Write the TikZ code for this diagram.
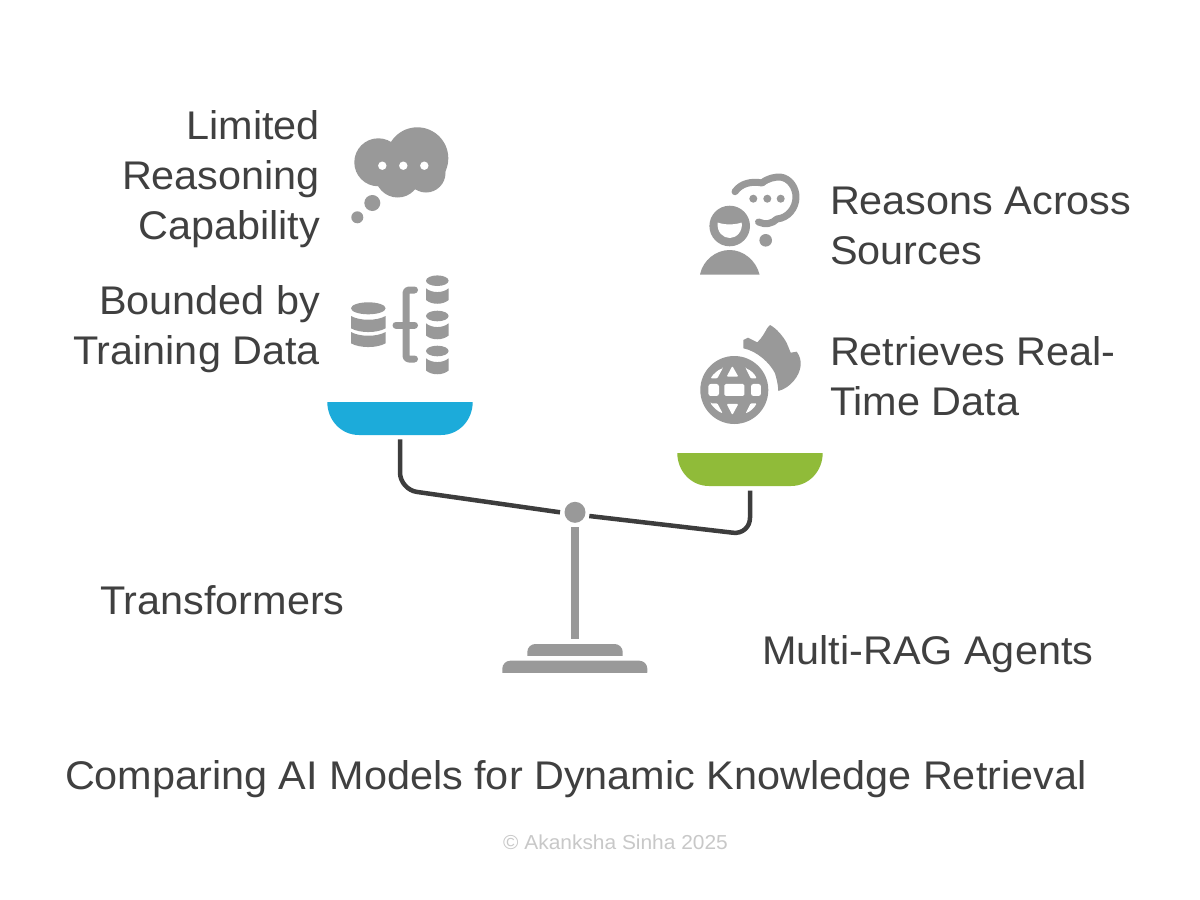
\documentclass[tikz,border=0pt]{standalone}
\usepackage{fontspec}
\setmainfont{Liberation Sans}[FakeStretch=1.035]
\definecolor{ink}{HTML}{404040}
\definecolor{icon}{HTML}{999999}
\definecolor{beamc}{HTML}{3D3D3D}
\definecolor{panblue}{HTML}{1CABDA}
\definecolor{pangreen}{HTML}{90BB39}
\definecolor{copyc}{HTML}{C8C8C8}
\tikzset{
  lbl/.style={text=ink,font=\fontsize{40}{50}\selectfont,inner sep=0pt,outer sep=0pt},
  lblr/.style={lbl,align=right,anchor=north east},
  lbll/.style={lbl,align=left,anchor=north west},
  beam/.style={draw=beamc,line width=4.5pt,rounded corners=17pt},
  ic/.style={fill=icon,draw=none},
  hole/.style={fill=white,draw=none},
  bracket/.style={draw=icon,line width=7pt,line cap=round,line join=round},
}
\newcommand{\dbband}[5]{% cx, rx, ytop, ybottom, dip
  \fill[icon] (#1-#2,#3) .. controls (#1-#2*0.5,#3+#5*1.25) and (#1+#2*0.5,#3+#5*1.25) .. (#1+#2,#3)
   -- (#1+#2,#4) .. controls (#1+#2*0.5,#4+#5*1.25) and (#1-#2*0.5,#4+#5*1.25) .. (#1-#2,#4) -- cycle;}
\begin{document}
\begin{tikzpicture}[x=1pt,y=-1pt]
\useasboundingbox (0,0) rectangle (1200,900);
\fill[white] (0,0) rectangle (1200,900);

% texts
\node[lblr] (limited) at (320,111) {Limited\\Reasoning\\Capability};
\node[lblr] (bounded) at (320,286) {Bounded by\\Training Data};
\node[lbll] (reasons) at (830,187) {Reasons Across\\Sources};
\node[lbll] (retrieves) at (830,337) {Retrieves Real-\\Time Data};
\node[lbl,anchor=base west] (transformers) at (100,614) {Transformers};
\node[lbl,anchor=base west] (multirag) at (762,664) {Multi-RAG Agents};
\node[lbl,anchor=base west] (title) at (65,789) {Comparing AI Models for Dynamic Knowledge Retrieval};
\node[anchor=base west,inner sep=0pt,text=copyc,font=\fontsize{20.2}{24}\selectfont] (copy) at (503,849) {© Akanksha Sinha 2025};

% thought cloud icon
\fill[ic] (378.3,162.3) circle (24);
\fill[ic] (417.3,158.3) circle (31);
\fill[ic] (397.7,175) circle (22.5);
\fill[ic] (426,173) circle (19.5);
\fill[hole] (382.3,165.7) circle (4.2) (403.3,165.7) circle (4.2) (424.3,165.7) circle (4.2);
\fill[ic] (372.3,203) circle (8) (357.3,217.3) circle (6);

% database icon
\fill[ic] (368.3,308.3) ellipse (17.3 and 6);
\dbband{368.3}{17.3}{316}{328.3}{4}
\dbband{368.3}{17.3}{332}{343.3}{4}
\fill[ic] (437.3,280.7) ellipse (11.3 and 5.3);
\dbband{437.3}{11.3}{288.3}{300}{4}
\fill[ic] (437.3,316) ellipse (11.3 and 5.3);
\dbband{437.3}{11.3}{323.3}{335.5}{4}
\fill[ic] (437.3,351) ellipse (11.3 and 5.3);
\dbband{437.3}{11.3}{358.3}{370.5}{4}
\draw[bracket,rounded corners=3pt] (414.5,290) -- (406,290) -- (406,359) -- (414.5,359);
\draw[bracket] (396,325) -- (414.5,325);

% person icon
\fill[ic] (729.7,226) circle (20.3);
\fill[hole] (717.7,222.5) .. controls (724,225) and (735,225) .. (741.7,222.5)
  .. controls (743,232) and (736,238) .. (729.7,238) .. controls (723,238) and (716.5,232) .. (717.7,222.5) -- cycle;
\fill[ic] (700,274.5) .. controls (703,260) and (716,250) .. (729.7,250)
  .. controls (743,250) and (756,260) .. (759.5,274.5) -- cycle;
\draw[bracket,line width=7pt] (735,191.7) .. controls (741,183) and (752,181) .. (762,183)
  .. controls (768,178) and (775,177) .. (780,177) .. controls (790,178) and (796,188) .. (796,197)
  .. controls (796,208) and (788,218) .. (777,219) .. controls (772,224) and (765,225) .. (758.5,222);
\fill[ic] (753.3,198.7) circle (4) (767.3,198.7) circle (4) (780.7,198.7) circle (4);
\fill[ic] (765.7,240.3) circle (6.3);

% globe + flame icon
\fill[ic] (743.3,340) -- (748,337.7) -- (757.3,342.3) .. controls (762,338) and (765,332) .. (767.3,328)
  -- (770,325) .. controls (776,328) and (783,336) .. (786.7,343) -- (790.7,352.7) -- (796.7,351.7)
  .. controls (800,356) and (801,361) .. (800.7,365) .. controls (800,376) and (790,388) .. (778.3,391)
  .. controls (778,383) and (776,377) .. (775,373.3) .. controls (770,363) and (757,351) .. (743.3,348.3) -- cycle;
\fill[ic] (734.3,390) circle (34);
\begin{scope}[shift={(680,310)},x=0.3333pt,y=-0.3333pt]
\fill[hole,rounded corners=1.5pt] (133,222) rectangle (193,258);
\fill[hole,rounded corners=2.5pt] (85,222) rectangle (117,258);
\fill[hole,rounded corners=2.5pt] (213,222) rectangle (243,258);
\fill[hole,rounded corners=1pt] (157,168) -- (175,200) -- (140,200) -- cycle;
\fill[hole,rounded corners=1pt] (140,282) -- (175,282) -- (157,315) -- cycle;
\fill[hole,rounded corners=1pt] (128,175) -- (112,205) -- (92,205) .. controls (100,192) and (113,180) .. (128,175) -- cycle;
\fill[hole,rounded corners=1pt] (197,175) -- (212,205) -- (230,205) .. controls (224,192) and (212,180) .. (197,175) -- cycle;
\fill[hole,rounded corners=1pt] (92,280) -- (112,280) -- (128,310) .. controls (113,304) and (100,292) .. (92,280) -- cycle;
\fill[hole,rounded corners=1pt] (212,280) -- (230,280) .. controls (224,292) and (212,304) .. (197,310) -- cycle;
\end{scope}

% scale
\coordinate (panL) at (400,439.3);
\coordinate (beamL) at (560,512.3);
\coordinate (panR) at (750,490.7);
\coordinate (beamR) at (589.3,516);
\path[fill=panblue] (327.3,402) -- (472.7,402) .. controls (472.7,420) and (459,435) .. (441,435)
  -- (359,435) .. controls (341,435) and (327.3,420) .. (327.3,402) -- cycle;
\path[fill=pangreen] (677.3,453) -- (822.7,453) .. controls (822.7,471) and (809,486) .. (791,486)
  -- (709,486) .. controls (691,486) and (677.3,471) .. (677.3,453) -- cycle;
\draw[beam] (panL) -- (400,489.5) -- (beamL);
\draw[beam] (beamR) -- (750,534.7) -- (panR);
\node[circle,fill=icon,minimum size=21pt,inner sep=0pt] (pivot) at (575,512.3) {};
\fill[icon] (571,527.3) rectangle (579,639.3);
\fill[icon,rounded corners=8pt] (527.3,664) -- (527.3,644) -- (622.7,644) -- (622.7,664) -- cycle;
\fill[white] (520,656) rectangle (630,660.7);
\fill[icon,rounded corners=8pt] (502.3,680) -- (502.3,660.7) -- (647.3,660.7) -- (647.3,680) -- cycle;
\fill[white] (495,672.7) rectangle (655,684);
\end{tikzpicture}
\end{document}
